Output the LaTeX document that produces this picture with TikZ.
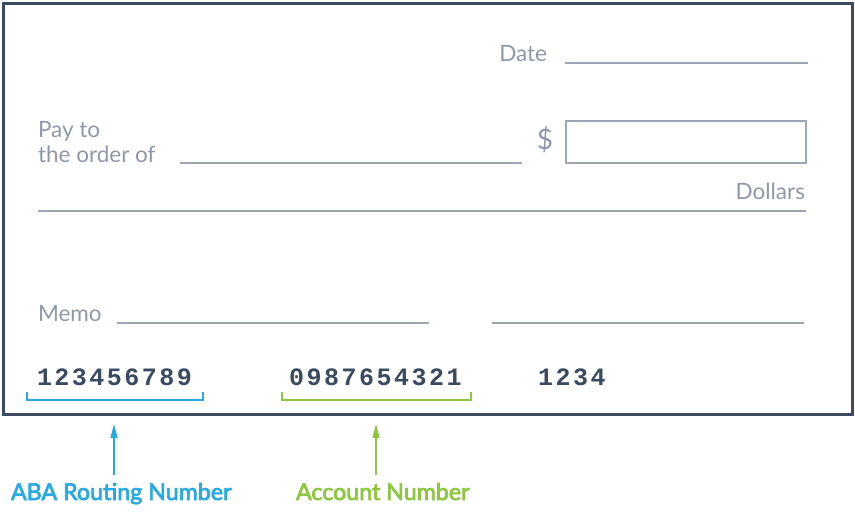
\documentclass[tikz,border=0pt]{standalone}
\usepackage{fontspec}
\setmainfont{Lato}
\newfontfamily\micrfont[LetterSpace=10]{Liberation Mono}
\newfontfamily\capfont[FakeBold=3]{Lato}
\usepackage{tikz}
\usetikzlibrary{calc}
\usetikzlibrary{arrows.meta}
\usetikzlibrary{positioning}

\definecolor{frame}{HTML}{3C4B64}
\definecolor{formtext}{HTML}{8F98AA}
\definecolor{formline}{HTML}{9EA6B4}
\definecolor{digits}{HTML}{3A4A60}
\definecolor{abablue}{HTML}{29A9E1}
\definecolor{acctgreen}{HTML}{8DC63F}

\begin{document}
\begin{tikzpicture}[x=1pt, y=-1pt,
    every node/.style={inner sep=0, outer sep=0},
    formlabel/.style={text=formtext, font=\fontsize{22.5}{26}\selectfont},
    blank/.style={draw=formline, line width=1.1pt},
    micr/.style={text=digits, font=\micrfont\bfseries\fontsize{25}{28}\selectfont},
    bracket/.style={line width=1.1pt},
    pointer/.style={line width=1.3pt, -{Triangle[length=14pt, width=7pt]}},
    caption/.style={font=\capfont\fontsize{23.2}{26}\selectfont}
  ]
  \useasboundingbox (0,0) rectangle (855,514);
  \draw[frame, line width=3pt] (3,3) rectangle (852,414);

  % date
  \node[formlabel, anchor=base east] (date) at (547,61) {Date};
  \coordinate (date_a) at (565,63);
  \coordinate (date_b) at (808,63);
  \draw[blank] (date_a) -- (date_b);

  % payee
  \node[formlabel, anchor=base west] (pay) at (38,137) {Pay to};
  \node[formlabel, anchor=base west] (order) at (38,162) {the order of};
  \coordinate (payee_a) at (180,163);
  \coordinate (payee_b) at (522,163);
  \draw[blank] (payee_a) -- (payee_b);
  \node[formlabel, font=\fontsize{28}{30}\selectfont] (dollar) at (545,140) {\$};
  \node[draw=formline, line width=1.1pt, minimum width=240pt, minimum height=42pt,
        anchor=north west] (amount) at (566,121) {};

  % amount in words
  \node[formlabel, anchor=base east] (dollars) at (805,199) {Dollars};
  \coordinate (words_a) at (38,211);
  \coordinate (words_b) at (806,211);
  \draw[blank] (words_a) -- (words_b);

  % memo and signature
  \node[formlabel, anchor=base west] (memo) at (38,321) {Memo};
  \coordinate (memo_a) at (117,323);
  \coordinate (memo_b) at (429,323);
  \coordinate (sign_a) at (492,323);
  \coordinate (sign_b) at (804,323);
  \draw[blank] (memo_a) -- (memo_b);
  \draw[blank] (sign_a) -- (sign_b);

  % micr line
  \node[micr, anchor=base west] (routing) at (37,385) {123456789};
  \node[micr, anchor=base west] (account) at (289,385) {0987654321};
  \node[micr, anchor=base west] (checkno) at (538,385) {1234};

  \draw[bracket, abablue] (27,392) |- (203,400) -- (203,392);
  \draw[bracket, acctgreen] (282,392) |- (471,400) -- (471,392);
  \coordinate (aba_tip) at (114,424);
  \coordinate (acct_tip) at (376,424);
  \coordinate (aba_tail) at (114,475);
  \coordinate (acct_tail) at (376,475);

  \node[caption, text=abablue, anchor=base west] (aba) at (11,500) {ABA Routing Number};
  \node[caption, text=acctgreen, anchor=base west] (acct) at (296,500) {Account Number};
  \draw[pointer, abablue] (aba_tail) -- (aba_tip);
  \draw[pointer, acctgreen] (acct_tail) -- (acct_tip);
\end{tikzpicture}
\end{document}
